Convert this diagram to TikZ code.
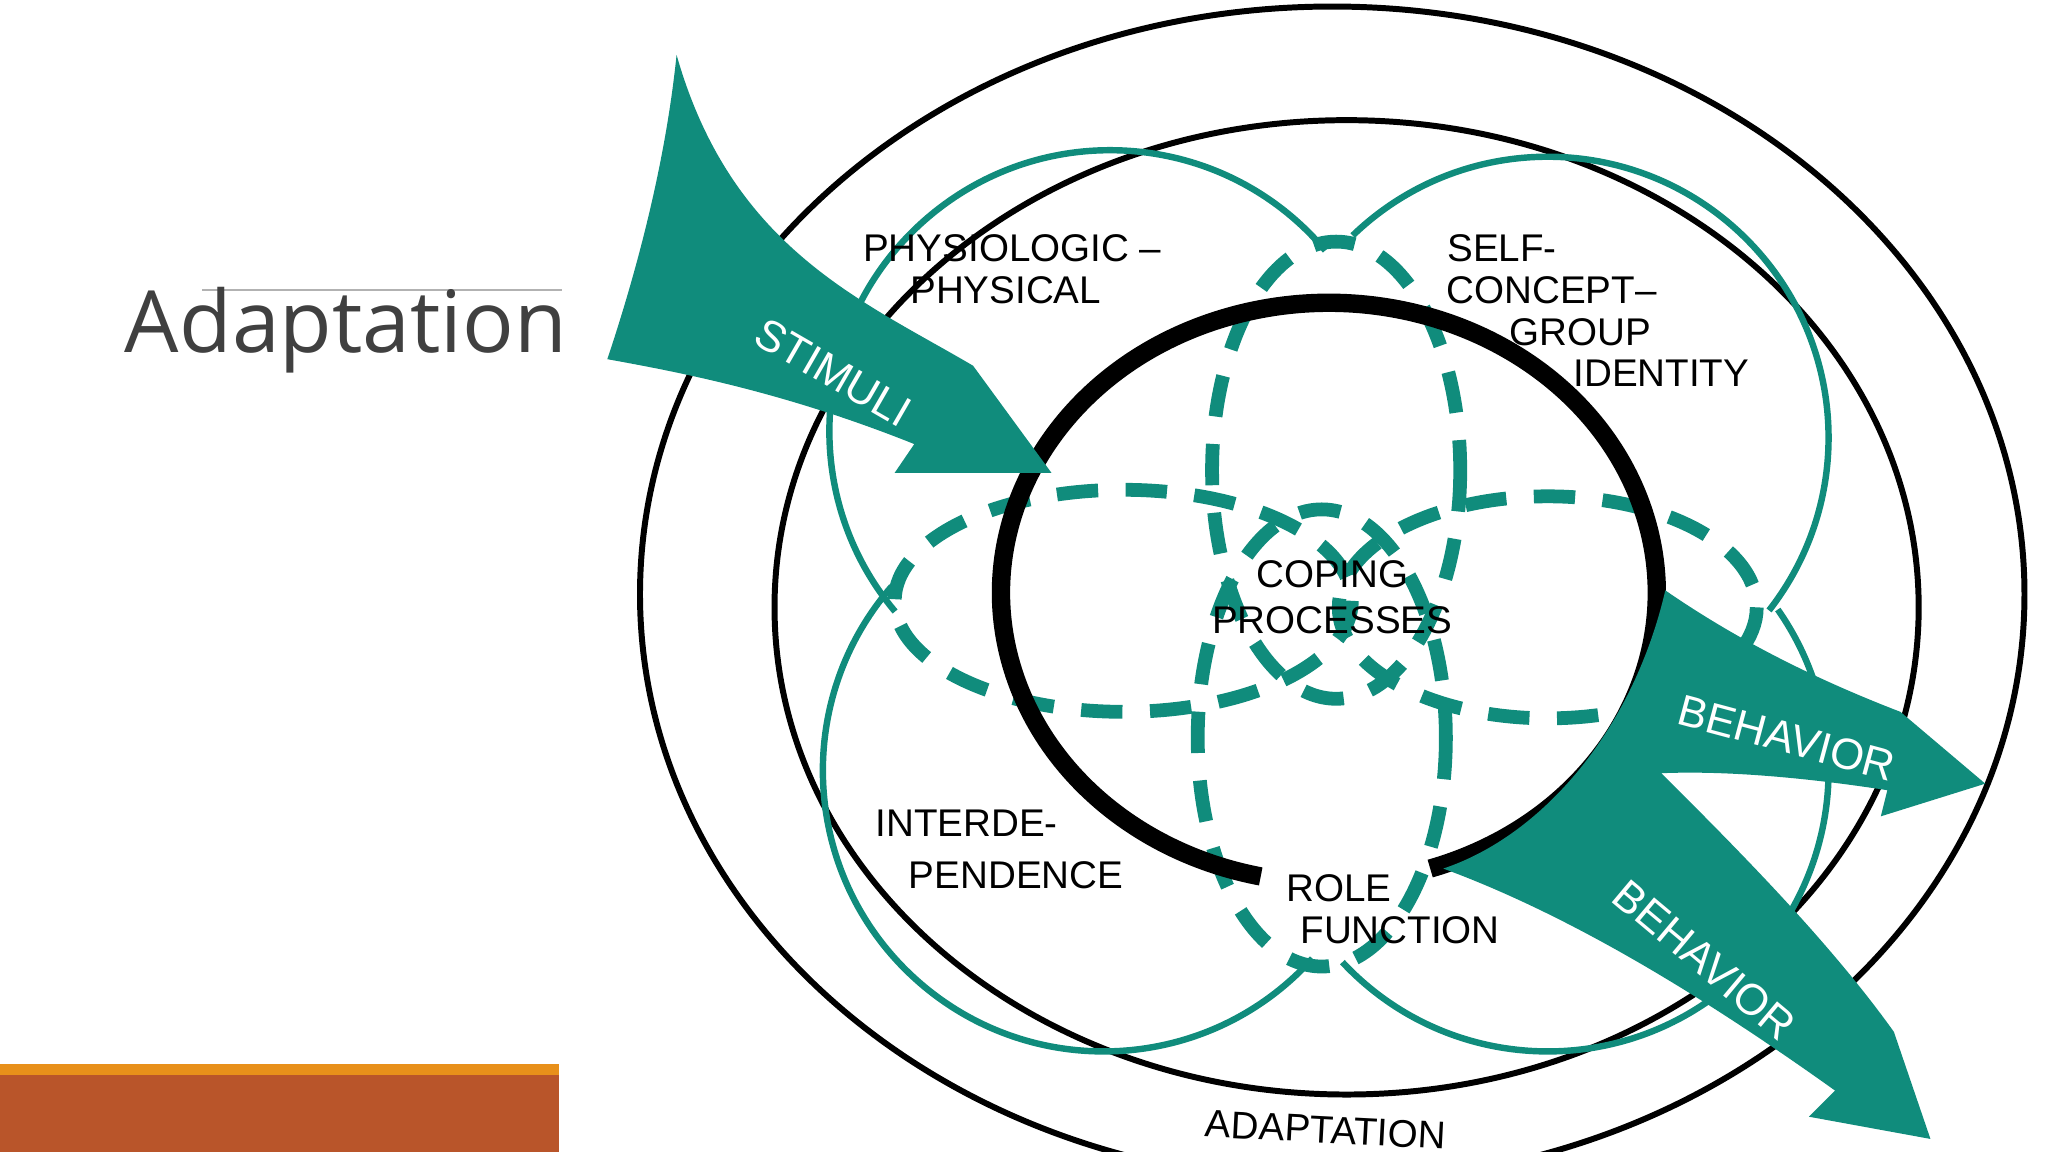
\documentclass[tikz,border=0pt]{standalone}
\usepackage{fontspec}
\setmainfont{Liberation Sans}
\newfontfamily\titlefont{Open Sans}
\usetikzlibrary{positioning}
\definecolor{teal}{RGB}{16,140,124}
\definecolor{rust}{RGB}{185,85,42}
\definecolor{amber}{RGB}{232,144,26}
\tikzset{
  petal/.style={teal,line width=1.4pt},
  core/.style={teal,line width=3pt,dash pattern=on 9pt off 6pt},
  lbl/.style={font=\fontsize{8.4}{9}\selectfont,align=center,inner sep=0pt},
  arrlbl/.style={font=\fontsize{9.5}{10}\selectfont,text=white,inner sep=0pt}
}
\begin{document}
\begin{tikzpicture}[x=0.01cm,y=-0.01cm]
\useasboundingbox (0,0) rectangle (1568,882);
\begin{scope}
\clip (0,0) rectangle (1568,882);
% rings
\draw[line width=1.3pt] (1020,455) ellipse[x radius=530,y radius=450];
\draw[line width=1.3pt] (1031,465) ellipse[x radius=438,y radius=373];
% outer petals
\draw[petal] (850,330) ++(-40:215) arc[start angle=-40,end angle=-220,radius=215];
\draw[petal] (1185,335) ++(-134:215) arc[start angle=-134,end angle=38,radius=215];
\draw[petal] (845,590) ++(42:215) arc[start angle=42,end angle=221,radius=215];
\draw[petal] (1185,590) ++(137:215) arc[start angle=137,end angle=-35,radius=215];
% dashed petals
\draw[core] (860,460) ellipse[x radius=175,y radius=85];
\draw[core] (1185,465) ellipse[x radius=160,y radius=85];
\draw[core] (1023,360) ellipse[x radius=95,y radius=175];
\draw[core] (1012,565) ellipse[x radius=95,y radius=175];
% coping circle
\draw[line width=4pt] (1095,665) arc[start angle=72,end angle=-258,x radius=251,y radius=222];
% stimuli arrow
\fill[teal] (518,42) .. controls (560,190) and (660,230) .. (745,280)
  -- (805,362) -- (685,362) -- (700,340) .. controls (600,300) and (520,285) .. (465,275)
  .. controls (490,200) and (510,120) .. (518,42) -- cycle;
\node[arrlbl,rotate=-30] (stim) at (638,285) {STIMULI};
% behavior arrows
\fill[teal] (1275,452) .. controls (1330,490) and (1390,520) .. (1455,545)
  -- (1520,600) -- (1440,625) -- (1445,605) .. controls (1380,595) and (1320,590) .. (1272,592)
  .. controls (1330,650) and (1400,720) .. (1450,790) -- (1478,872) -- (1385,855) -- (1405,835)
  .. controls (1300,760) and (1200,700) .. (1105,665)
  .. controls (1180,640) and (1250,560) .. (1275,452) -- cycle;
\node[arrlbl,rotate=-15] (beh1) at (1368,565) {BEHAVIOR};
\node[arrlbl,rotate=-40] (beh2) at (1305,735) {BEHAVIOR};
\end{scope}
% labels
\node[lbl] (phys) at (775,190) {PHYSIOLOGIC --};
\node[lbl] (physb) at (770,222) {PHYSICAL};
\node[lbl] (self) at (1150,190) {SELF-};
\node[lbl] (selfb) at (1188,222) {CONCEPT--};
\node[lbl] (selfc) at (1210,254) {GROUP};
\node[lbl] (selfd) at (1272,286) {IDENTITY};
\node[lbl] (cop) at (1020,440) {COPING};
\node[lbl] (copb) at (1020,475) {PROCESSES};
\node[lbl] (inter) at (740,630) {INTERDE-};
\node[lbl] (interb) at (778,670) {PENDENCE};
\node[lbl] (role) at (1025,680) {ROLE};
\node[lbl] (roleb) at (1072,712) {FUNCTION};
\node[lbl,rotate=-3] (adapt) at (1015,865) {ADAPTATION};
% title and bar
\draw[gray!60,line width=0.5pt] (155,222) -- (430,222);
\node[font=\titlefont\fontsize{18.7}{20}\selectfont,text=black!75,anchor=base west,inner sep=0pt] (title) at (95,270) {Adaptation};
\fill[rust] (0,815) rectangle (428,882);
\fill[amber] (0,815) rectangle (428,823);
\end{tikzpicture}
\end{document}
